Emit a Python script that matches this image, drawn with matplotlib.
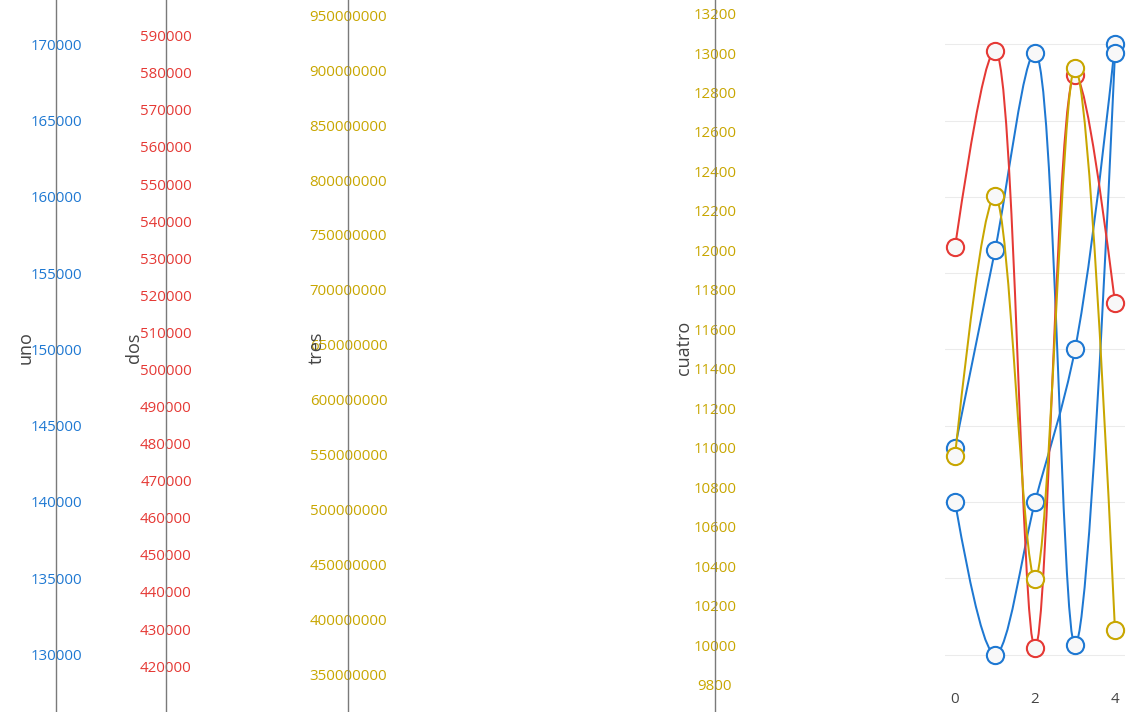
import numpy as np
import matplotlib
matplotlib.use('Agg')
import matplotlib.pyplot as plt
from matplotlib.path import Path
from matplotlib.patches import PathPatch

plt.rcParams['font.family'] = ['Open Sans', 'DejaVu Sans']

# ---- data ----
x = [0, 1, 2, 3, 4]
uno = [140000, 130000, 140000, 150000, 170000]
dos = [533000, 586000, 425000, 579500, 518000]
tres = [549000000, 785000000, 437000000, 902000000, 390000000]
cuatro = [11000, 12000, 13000, 10000, 13000]

uno_ticks = list(range(130000, 170001, 5000))
dos_ticks = list(range(420000, 590001, 10000))
tres_ticks = list(range(350000000, 950000001, 50000000))
cuatro_ticks = list(range(9800, 13201, 200))
x_ticks = [0, 2, 4]

names = ['uno', 'dos', 'tres', 'cuatro']
series = [uno, dos, tres, cuatro]
ticks = [uno_ticks, dos_ticks, tres_ticks, cuatro_ticks]

# ---- styles / layout ----
W, H = 1138, 712
BLUE, RED, YEL = '#1e78d2', '#e53935', '#c8a600'
line_colors = [BLUE, RED, YEL, BLUE]
axis_colors = [BLUE, RED, YEL, YEL]
draw_order = [0, 2, 3, 1]
ylims = [(126231, 172904), (407625, 599627), (315.5e6, 963.93e6), (9660.7, 13268.6)]
spine_px = [56, 166, 348.5, 715]
title_px = [26, 134, 317, 684.5]
plot_left, plot_w = 945, 180
rect = [plot_left / W, 0, plot_w / W, 1]
FS = 10.8      # 15 px
TFS = 13       # 18 px


def spline_path(ax, xs, ys, smooth=1.0):
    pts = ax.transData.transform(np.column_stack([xs, ys]).astype(float))
    tang = []
    for i in range(1, len(pts) - 1):
        p0, p1, p2 = pts[i - 1], pts[i], pts[i + 1]
        d1 = p0 - p1
        d2 = p2 - p1
        d1a = (d1 @ d1) ** 0.25
        d2a = (d2 @ d2) ** 0.25
        num = (d2a ** 2 * d1 - d1a ** 2 * d2) * smooth
        den1 = 3 * d2a * (d1a + d2a)
        den2 = 3 * d1a * (d1a + d2a)
        tang.append((p1 + num / den1, p1 - num / den2))
    verts = [pts[0], tang[0][0], pts[1]]
    codes = [Path.MOVETO, Path.CURVE3, Path.CURVE3]
    for i in range(2, len(pts) - 1):
        verts += [tang[i - 2][1], tang[i - 1][0], pts[i]]
        codes += [Path.CURVE4] * 3
    verts += [tang[-1][1], pts[-1]]
    codes += [Path.CURVE3] * 2
    dv = ax.transData.inverted().transform(np.array(verts))
    return Path(dv, codes)


fig = plt.figure(figsize=(W / 100, H / 100), dpi=100)
fig.patch.set_facecolor('white')

axes = []
for i, name in enumerate(names):
    ax = fig.add_axes(rect, label=name)
    ax.set_zorder(draw_order[i])
    ax.set_facecolor('white' if i == 0 else 'none')
    ax.set_xlim(-0.25, 4.25)
    ax.set_ylim(*ylims[i])
    for s in ['top', 'right', 'bottom']:
        ax.spines[s].set_visible(False)
    ax.spines['left'].set_position(('axes', (spine_px[i] - plot_left) / plot_w))
    ax.spines['left'].set_color('#7a7a7a')
    ax.spines['left'].set_linewidth(1.0)
    ax.set_yticks(ticks[i])
    ax.set_yticklabels([str(t) for t in ticks[i]])
    ax.tick_params(axis='y', length=0, pad=0, labelsize=FS, labelcolor=axis_colors[i])
    for lab in ax.get_yticklabels():
        lab.set_horizontalalignment('center')
    ax.set_ylabel(name, fontsize=TFS, color='#444444', ha='center', va='center',
                  rotation_mode='default')
    ax.yaxis.set_label_coords((title_px[i] - plot_left) / plot_w, 1 - 348 / H)
    if i == 0:
        ax.set_xticks(x_ticks)
        ax.set_xticklabels([str(t) for t in x_ticks])
        ax.tick_params(axis='x', length=0, pad=-14.4, labelsize=FS, labelcolor='#444444')
        ax.grid(axis='y', color='#ebebeb', linewidth=0.75)
        ax.set_axisbelow(True)
    else:
        ax.set_xticks([])
    axes.append(ax)

for i, ax in enumerate(axes):
    p = spline_path(ax, x, series[i])
    ax.add_patch(PathPatch(p, fill=False, edgecolor=line_colors[i], linewidth=1.45,
                           capstyle='round', joinstyle='round', clip_on=False, zorder=2))
    ax.plot(x, series[i], linestyle='none', marker='o', markersize=12.4,
            markerfacecolor='#f8f8f8', markeredgecolor=line_colors[i],
            markeredgewidth=1.5, clip_on=False, zorder=3)

fig.savefig('out.png', dpi=100, facecolor='white')
